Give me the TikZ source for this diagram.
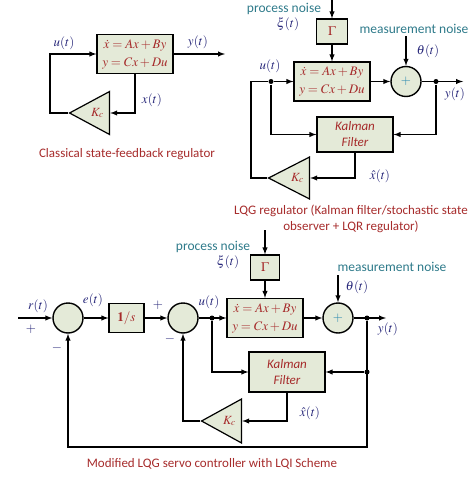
\documentclass[tikz,border=0pt]{standalone}
\usepackage{mathptmx}
\usepackage{fontspec}
\setmainfont{Carlito}
\usetikzlibrary{arrows,shapes.geometric}
\begin{document}
\begin{tikzpicture}[x=1pt,y=-1pt,line width=1.4pt,
  blk/.style={draw,fill=boxcolor,line width=1.2pt,inner sep=0pt,align=center,text=capcolor,
    minimum width=76pt,minimum height=39pt,font=\fontsize{13}{18}\selectfont},
  sumnode/.style={draw,circle,fill=boxcolor,minimum size=30pt,inner sep=0pt,text=pluscolor,
    font=\fontsize{13}{15}\selectfont},
  gain/.style={draw,fill=boxcolor,line width=1.2pt,isosceles triangle,isosceles triangle stretches,
    shape border rotate=180,minimum height=40pt,minimum width=43pt,inner sep=0pt,anchor=apex,
    text=capcolor,font=\fontsize{12.5}{14}\selectfont},
  sig/.style={text=sigcolor,font=\fontsize{13}{15}\selectfont},
  noise/.style={text=noisecolor,font=\fontsize{13.5}{15}\selectfont},
  caption/.style={text=capcolor,align=center,font=\fontsize{13}{16}\selectfont},
  dot/.style={circle,fill,inner sep=0pt,minimum size=5pt}]
  \definecolor{boxcolor}{HTML}{E4EAD8}
  \definecolor{capcolor}{HTML}{A62B2B}
  \definecolor{sigcolor}{HTML}{28287A}
  \definecolor{noisecolor}{HTML}{2E7A8A}
  \definecolor{pluscolor}{HTML}{2A8AB0}
  \useasboundingbox (0,0) rectangle (474,494);
  % classical state feedback
  \node[blk] (plant1) at (135,54) {$\dot{x}=Ax+By$\\$y=Cx+Du$};
  \node[gain] (kc1) at (68,113) {$K_c$};
  \coordinate (out1) at (225,54);
  \draw[-latex] (plant1) -- (out1);
  \draw[-latex] (plant1.south) |- (kc1.lower side);
  \draw[-latex] (kc1.apex) -- ++(-18,0) |- (plant1.west);
  \node[sig] (u1) at (64,43) {$u(t)$};
  \node[sig] (y1) at (198,42) {$y(t)$};
  \node[sig] (x1) at (152,100) {$x(t)$};
  \node[caption] (cap1) at (127,154) {Classical state-feedback regulator};
  % LQG regulator
  \coordinate (pn2) at (332,0);
  \node[blk,minimum width=31pt,minimum height=25pt] (gam2) at (332,31.5) {$\Gamma$};
  \node[blk] (plant2) at (332,81.5) {$\dot{x}=Ax+By$\\$y=Cx+Du$};
  \node[sumnode] (sum2) at (406,81.5) {$+$};
  \node[dot] (ud2) at (271,81.5) {};
  \node[dot] (yd2) at (436,81.5) {};
  \coordinate (out2) at (463,81.5);
  \coordinate (mn2) at (406,36);
  \node[blk,minimum height=35pt,font=\fontsize{13}{16}\selectfont\itshape] (kal2) at (355,134.5) {Kalman\\Filter};
  \node[gain,minimum height=41pt,minimum width=42pt] (kc2) at (267,178) {$K_c$};
  \draw[-latex] (pn2) -- (gam2);
  \draw[-latex] (gam2) -- (plant2);
  \draw[-latex] (plant2) -- (sum2);
  \draw[-latex] (mn2) -- (sum2);
  \draw[-latex] (sum2) -- (out2);
  \draw[-latex] (ud2) -- (plant2);
  \draw[-latex] (ud2) |- (kal2);
  \draw[-latex] (yd2) |- (kal2);
  \draw[-latex] (kal2) |- (kc2.lower side);
  \draw (kc2.apex) -- ++(-16,0) |- (ud2);
  \node[noise] (pnl2) at (284,9) {process noise};
  \node[sig] (xi2) at (288,24) {$\xi(t)$};
  \node[noise] (mnl2) at (414,29) {measurement noise};
  \node[sig] (th2) at (428,51) {$\theta(t)$};
  \node[sig] (u2) at (270,66) {$u(t)$};
  \node[sig] (y2) at (455,94) {$y(t)$};
  \node[sig] (x2) at (380,176) {$\hat{x}(t)$};
  \node[caption] (cap2) at (351,219) {LQG regulator (Kalman filter/stochastic state\\observer + LQR regulator)};
  % LQG servo with LQI
  \coordinate (in3) at (18,318);
  \node[sumnode] (sumA) at (68,318) {};
  \node[blk,minimum width=35pt,minimum height=29pt] (integ) at (126.5,318) {$\mathbf{1}/s$};
  \node[sumnode] (sumB) at (183,318) {};
  \node[dot] (ud3) at (212,318) {};
  \node[blk] (plant3) at (265,318) {$\dot{x}=Ax+By$\\$y=Cx+Du$};
  \coordinate (pn3) at (265,230);
  \node[blk,minimum width=29pt,minimum height=25pt] (gam3) at (265,267.5) {$\Gamma$};
  \node[sumnode] (sum3) at (338,318) {$+$};
  \coordinate (mn3) at (338,275);
  \node[dot] (yd3) at (367,318) {};
  \coordinate (out3) at (386,318);
  \node[blk,minimum height=40pt,font=\fontsize{13}{16}\selectfont\itshape] (kal3) at (287,372) {Kalman\\Filter};
  \node[dot] (yk3) at (367,372) {};
  \coordinate (bot3) at (367,447);
  \node[gain,minimum width=44pt] (kc3) at (200,421) {$K_c$};
  \draw[-latex] (in3) -- (sumA);
  \draw[-latex] (sumA) -- (integ);
  \draw[-latex] (integ) -- (sumB);
  \draw[-latex] (sumB) -- (plant3);
  \draw[-latex] (pn3) -- (gam3);
  \draw[-latex] (gam3) -- (plant3);
  \draw[-latex] (plant3) -- (sum3);
  \draw[-latex] (mn3) -- (sum3);
  \draw[-latex] (sum3) -- (out3);
  \draw[-latex] (ud3) |- (kal3);
  \draw[-latex] (yk3) -- (kal3);
  \draw[-latex] (yd3) -- (bot3) -| (sumA);
  \draw[-latex] (kal3) |- (kc3.lower side);
  \draw[-latex] (kc3.apex) -| (sumB);
  \node[sig] (r3) at (38,306) {$r(t)$};
  \node[sig] (pA) at (31,329) {$+$};
  \node[sig] (mA) at (57,348) {$-$};
  \node[sig] (e3) at (93,300) {$e(t)$};
  \node[sig] (pB) at (158,305) {$+$};
  \node[sig] (mB) at (170,339) {$-$};
  \node[sig] (u3) at (209,302) {$u(t)$};
  \node[noise] (pnl3) at (213,247) {process noise};
  \node[sig] (xi3) at (228,262) {$\xi(t)$};
  \node[noise] (mnl3) at (392,267) {measurement noise};
  \node[sig] (th3) at (357,287) {$\theta(t)$};
  \node[sig] (y3) at (388,329) {$y(t)$};
  \node[sig] (x3) at (310,413) {$\hat{x}(t)$};
  \node[caption] (cap3) at (212,464) {Modified LQG servo controller with LQI Scheme};
\end{tikzpicture}
\end{document}
